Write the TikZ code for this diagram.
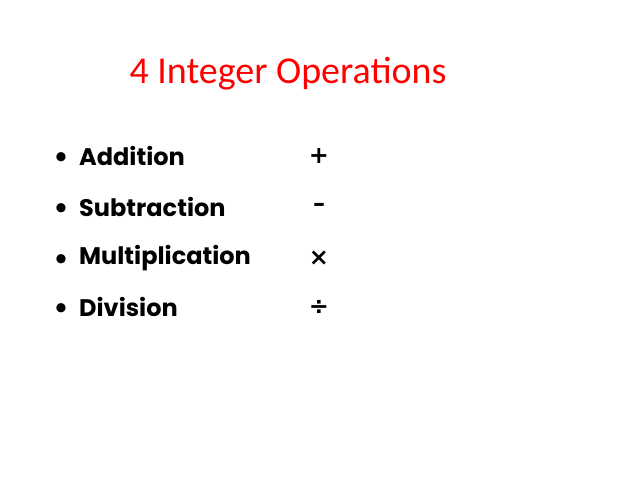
\documentclass[tikz,border=0pt]{standalone}
\usepackage{fontspec}
\setmainfont{Carlito}
\newfontfamily\comic{Poppins}
\newfontfamily\symf{DejaVu Sans}
\begin{document}
\begin{tikzpicture}[x=1pt,y=1pt,
  item/.style={anchor=west,inner sep=0pt,font=\comic\bfseries\fontsize{24}{26}\selectfont},
  bul/.style={anchor=center,inner sep=0pt,font=\fontsize{26}{28}\selectfont},
  sym/.style={anchor=center,inner sep=0pt,font=\symf\bfseries\fontsize{24}{26}\selectfont}]
\useasboundingbox[fill=white] (0,0) rectangle (638,-478);
\node[anchor=center,inner sep=0pt,text=red,font=\fontsize{38}{42}\selectfont] (title) at (288,-74) {4 Integer Operations};
\foreach \y/\t/\s/\n in {156/Addition/+/a,207/Subtraction/–/b,258/Multiplication/×/c,307/Division/÷/d}{
  \node[bul] (b\n) at (61,-\y-3) {•};
  \node[item] (t\n) at (79,-\y) {\t};
  \node[sym] (s\n) at (319,-\y) {\s};
}
\end{tikzpicture}
\end{document}
